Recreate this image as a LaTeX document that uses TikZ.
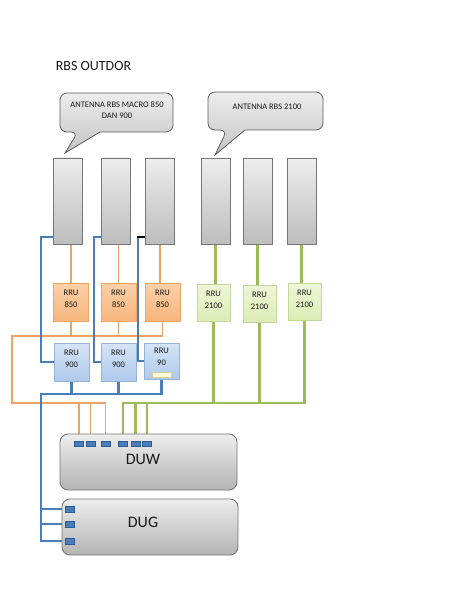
\documentclass[tikz,border=0pt]{standalone}
\usepackage{fontspec}
\setmainfont{Carlito}
\pgfdeclarelayer{paper}
\pgfdeclarelayer{background}
\pgfsetlayers{paper,background,main}
\definecolor{antborder}{HTML}{767676}
\definecolor{anttop}{HTML}{EDEDED}
\definecolor{antbot}{HTML}{BDBDBD}
\definecolor{orborder}{HTML}{F2A462}
\definecolor{ortop}{HTML}{FBD0A8}
\definecolor{orbot}{HTML}{F7B57C}
\definecolor{orline}{HTML}{F0A262}
\definecolor{blborder}{HTML}{95B3D7}
\definecolor{bltop}{HTML}{D6E4F6}
\definecolor{blbot}{HTML}{AFC9EC}
\definecolor{blline}{HTML}{4A7EBB}
\definecolor{grborder}{HTML}{C3D69B}
\definecolor{grtop}{HTML}{EEF6D8}
\definecolor{grbot}{HTML}{DCEDB4}
\definecolor{grline}{HTML}{9BBB59}
\definecolor{portfill}{HTML}{4A7EBB}
\definecolor{portborder}{HTML}{2C5A94}
\definecolor{tagfill}{HTML}{FDFBD6}
\definecolor{tagborder}{HTML}{D8D0A0}
\tikzset{
  antenna/.style={rectangle, draw=antborder, line width=0.8pt, top color=anttop, bottom color=antbot, minimum width=29pt, minimum height=86pt, inner sep=0pt},
  rrubox/.style={rectangle, line width=0.7pt, minimum width=35pt, minimum height=38pt, inner sep=0pt},
  orbox/.style={rrubox, draw=orborder, top color=ortop, bottom color=orbot},
  blbox/.style={rrubox, draw=blborder, top color=bltop, bottom color=blbot},
  grbox/.style={rrubox, draw=grborder, top color=grtop, bottom color=grbot, minimum width=33pt, minimum height=37pt},
  rrutext/.style={font=\fontsize{8.5}{12}\selectfont, align=center, text=black!90},
  unitbox/.style={rectangle, rounded corners=8pt, draw=antborder, line width=0.9pt, top color=anttop, bottom color=antbot!95!black, inner sep=0pt},
  port/.style={rectangle, draw=portborder, fill=portfill, line width=0.5pt, minimum width=9pt, minimum height=5pt, inner sep=0pt},
  callout/.style={draw=antborder!80!black, line width=0.8pt, top color=anttop, bottom color=antbot!90!white},
  calltext/.style={font=\fontsize{8.5}{11}\selectfont, align=center, text=black!90},
  orl/.style={draw=orline, line width=1.8pt},
  bll/.style={draw=blline, line width=2.5pt},
  grl/.style={draw=grline, line width=2.5pt},
}
\begin{document}
\begin{tikzpicture}[x=1pt,y=-1pt]
\begin{pgfonlayer}{paper}
\fill[white] (0,0) rectangle (474,612);
\end{pgfonlayer}
\useasboundingbox (0,0) rectangle (474,612);

% title
\node[font=\fontsize{14}{16}\selectfont, text=black!90] (title) at (93.5,66) {RBS OUTDOR};

% callouts
\shade[callout] (120,93) [rounded corners=7pt] -- (60,93) -- (60,132) -- (78,132) [sharp corners] -- (65,153) -- (100,132) [rounded corners=7pt] -- (173,132) -- (173,93) -- cycle;
\node[calltext] (c1text) at (117,110.5) {ANTENNA RBS MACRO 850\\DAN 900};
\shade[callout] (265,92) [rounded corners=7pt] -- (208,92) -- (208,130) -- (227,130) [sharp corners] -- (215,155) -- (245,130) [rounded corners=7pt] -- (323,130) -- (323,92) -- cycle;
\node[calltext] (c2text) at (267,107) {ANTENNA RBS 2100};

% antennas
\node[antenna] (a1) at (68,201) {};
\node[antenna] (a2) at (115.5,201) {};
\node[antenna] (a3) at (159.5,201) {};
\node[antenna] (a4) at (215.5,201.5) {};
\node[antenna] (a5) at (257.5,201.5) {};
\node[antenna] (a6) at (301.5,201.5) {};

% RRU 850
\node[orbox, label={[rrutext, yshift=3pt]center:RRU\\850}] (r81) at (71,302) {};
\node[orbox, label={[rrutext, yshift=3pt]center:RRU\\850}] (r82) at (118.5,302) {};
\node[orbox, label={[rrutext, yshift=3pt]center:RRU\\850}] (r83) at (162.5,302) {};

% RRU 900
\node[blbox, label={[rrutext, yshift=3pt]center:RRU\\900}] (r91) at (71.5,362) {};
\node[blbox, label={[rrutext, yshift=3pt]center:RRU\\900}] (r92) at (118.5,362) {};
\node[blbox, minimum height=36pt, label={[rrutext, yshift=4pt]center:RRU\\90}] (r93) at (161.5,361) {};
\node[rectangle, draw=tagborder, fill=tagfill, line width=0.3pt, minimum width=19pt, minimum height=5pt, inner sep=0pt] (tag) at (161.5,375) {};

% RRU 2100
\node[grbox, label={[rrutext, yshift=3pt]center:RRU\\2100}] (q1) at (213.5,302.5) {};
\node[grbox, label={[rrutext, yshift=3pt]center:RRU\\2100}] (q2) at (259.5,303.5) {};
\node[grbox, label={[rrutext, yshift=3pt]center:RRU\\2100}] (q3) at (304.5,301.5) {};

% DUW / DUG
\node[unitbox, minimum width=177pt, minimum height=56pt] (duw) at (148.5,462) {};
\node[font=\fontsize{16}{18}\selectfont, text=black!90] (duwtext) at (143,459) {DUW};
\node[unitbox, minimum width=176pt, minimum height=56pt] (dug) at (150,527) {};
\node[font=\fontsize{16}{18}\selectfont, text=black!90] (dugtext) at (143,522) {DUG};

% ports
\node[port] (p1) at (79,443.5) {};
\node[port] (p2) at (90.5,443.5) {};
\node[port] (p3) at (105.5,443.5) {};
\node[port] (p4) at (123,443.5) {};
\node[port] (p5) at (135.5,443.5) {};
\node[port] (p6) at (147,443.5) {};
\node[port, minimum height=6pt] (g1) at (70,509) {};
\node[port, minimum height=6pt] (g2) at (70,524) {};
\node[port, minimum height=6pt] (g3) at (70,541) {};

\begin{pgfonlayer}{background}
% orange
\draw[orl] (r81.north |- a1.south) -- (r81.north);
\draw[orl] (r82.north |- a2.south) -- (r82.north);
\draw[orl] (r83.north -| 160,0) -- (a3.south -| 160,0);
\draw[orl] (r81.south) -- (r81.south |- 0,336);
\draw[orl] (r82.south) -- (r82.south |- 0,336);
\draw[orl] (r83.south) |- (12,336) -- (12,403) -| (p3.north);
\draw[orl] (p1.north |- 0,403) -- (p1.north);
\draw[orl] (p2.north |- 0,403) -- (p2.north);
% green
\draw[grl] (a4.south) -- (a4.south |- q1.north);
\draw[grl] (a5.south) -- (a5.south |- q2.north);
\draw[grl] (a6.south) -- (a6.south |- q3.north);
\draw[grl] (q1.south) -- (q1.south |- 0,403);
\draw[grl] (q2.south) -- (q2.south |- 0,403);
\draw[grl] (q3.south) |- (p4.north |- 0,403) -- (p4.north);
\draw[grl] (p5.north |- 0,403) -- (p5.north);
\draw[grl] (p6.north |- 0,403) -- (p6.north);
% blue
\draw[bll] (a1.west |- 0,237) -| (r91.west -| 41,0) -- (r91.west);
\draw[bll] (a2.west |- 0,237) -| (r92.west -| 94,0) -- (r92.west);
\draw[bll] (a3.west |- 0,237) -| (r93.west -| 138,0) -- (r93.west);
\draw[black, line width=2.5pt] (137,237) -- (a3.west |- 0,237);
\draw[bll] (r91.south) -- (r91.south |- 0,394);
\draw[bll] (r92.south) -- (r92.south |- 0,394);
\draw[bll] (r93.south) |- (41,394) |- (g3.west);
\draw[bll] (g1.west -| 41,0) -- (g1.west);
\draw[bll] (g2.west -| 41,0) -- (g2.west);
\end{pgfonlayer}
\end{tikzpicture}
\end{document}
